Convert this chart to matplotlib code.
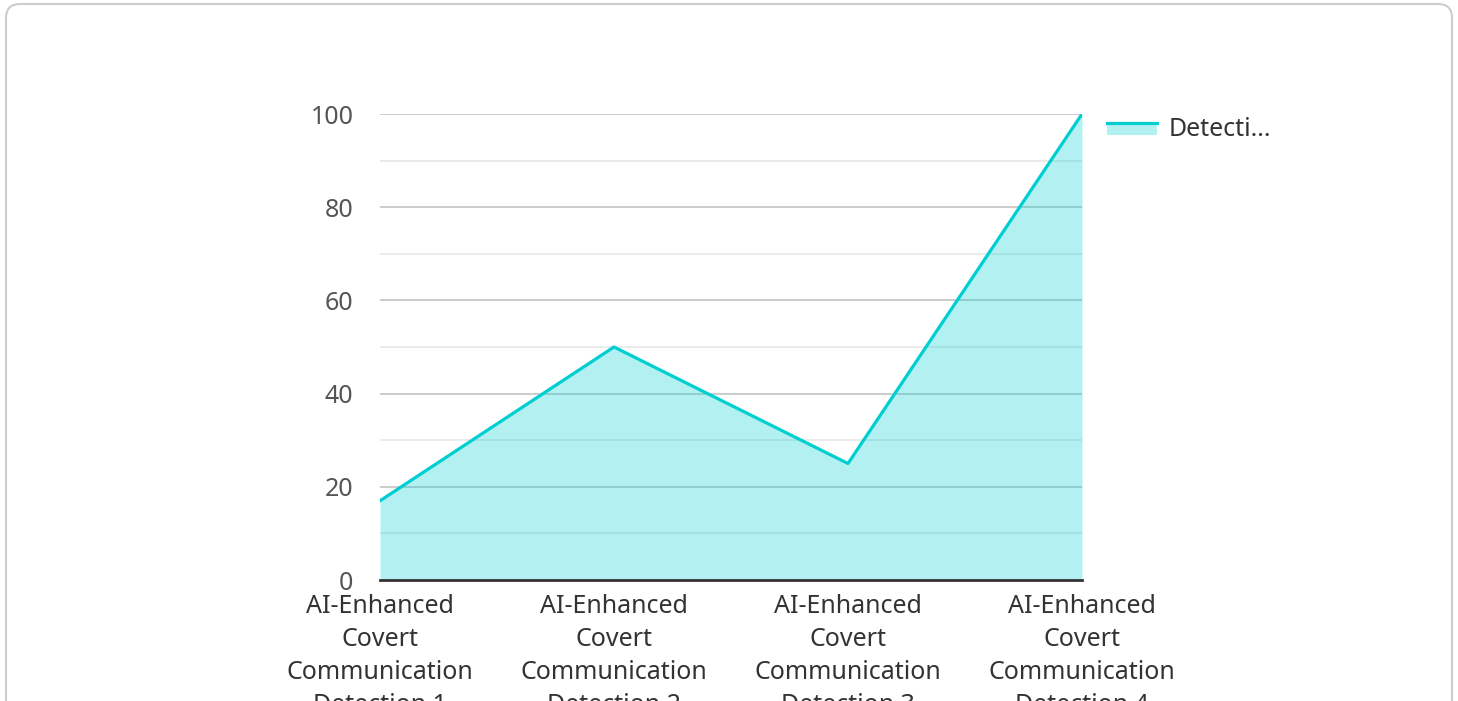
import matplotlib.pyplot as plt
from matplotlib.patches import FancyBboxPatch, Rectangle
from matplotlib.lines import Line2D
from matplotlib.transforms import IdentityTransform
from matplotlib.legend_handler import HandlerBase

categories = ["AI-Enhanced\nCovert\nCommunication\nDetection 1",
              "AI-Enhanced\nCovert\nCommunication\nDetection 2",
              "AI-Enhanced\nCovert\nCommunication\nDetection 3",
              "AI-Enhanced\nCovert\nCommunication\nDetection 4"]
values = [17, 50, 25, 100]
y_ticks = [0, 20, 40, 60, 80, 100]
minor_ticks = [10, 30, 50, 70, 90]
series_name = "Detecti..."

plt.rcParams['font.family'] = ['Noto Sans', 'DejaVu Sans']

W, H = 1458, 701
fig = plt.figure(figsize=(W / 100, H / 100), dpi=100)

# card border
card = FancyBboxPatch((6, -20), 1446, 717, boxstyle="round,pad=0,rounding_size=14",
                      transform=IdentityTransform(), facecolor='none',
                      edgecolor='#cccccc', linewidth=1.5, zorder=-1)
fig.patches.append(card)

ax = fig.add_axes([380 / W, (H - 580) / H, (1082 - 380) / W, (580 - 114) / H])
ax.set_facecolor('none')

x = list(range(len(values)))
color = '#00CED1'
ax.fill_between(x, values, 0, color=color, alpha=0.3, linewidth=0, zorder=2)
ax.plot(x, values, color=color, linewidth=2.3, zorder=3)

ax.set_xlim(0, 3)
ax.set_ylim(0, 100)

for v in minor_ticks:
    ax.axhline(v, color='#e8e8e8', linewidth=1.2, zorder=1)
for v in y_ticks[1:]:
    ax.axhline(v, color='#c8c8c8', linewidth=1.3, zorder=1)

for s in ['top', 'right', 'left']:
    ax.spines[s].set_visible(False)
ax.spines['bottom'].set_color('#333333')
ax.spines['bottom'].set_linewidth(2)
ax.spines['bottom'].set_zorder(4)

ax.set_yticks(y_ticks)
ax.set_yticklabels([str(v) for v in y_ticks], fontsize=18, color='#555555')
ax.set_xticks(x)
ax.set_xticklabels(categories, fontsize=18, color='#333333', linespacing=1.42)
ax.tick_params(axis='y', length=0, pad=19)
ax.tick_params(axis='x', length=0, pad=10)


class AreaHandler(HandlerBase):
    def create_artists(self, legend, orig_handle, xdescent, ydescent, width, height, fontsize, trans):
        ymid = height * 0.72 - ydescent
        rect = Rectangle((-xdescent, ymid - height * 0.6), width, height * 0.6,
                         facecolor=color, alpha=0.3, linewidth=0, transform=trans)
        ln = Line2D([-xdescent, width - xdescent], [ymid, ymid], color=color,
                    linewidth=2.3, transform=trans)
        return [rect, ln]


handle = Rectangle((0, 0), 1, 1)
fig.legend([handle], [series_name], handler_map={Rectangle: AreaHandler()},
           loc='upper left', bbox_to_anchor=(1107 / W, (H - 117) / H), frameon=False,
           borderpad=0, borderaxespad=0,
           fontsize=18, handlelength=2.0, handleheight=0.9, handletextpad=0.45,
           labelcolor='#333333')

fig.savefig('out.png', dpi=100)
